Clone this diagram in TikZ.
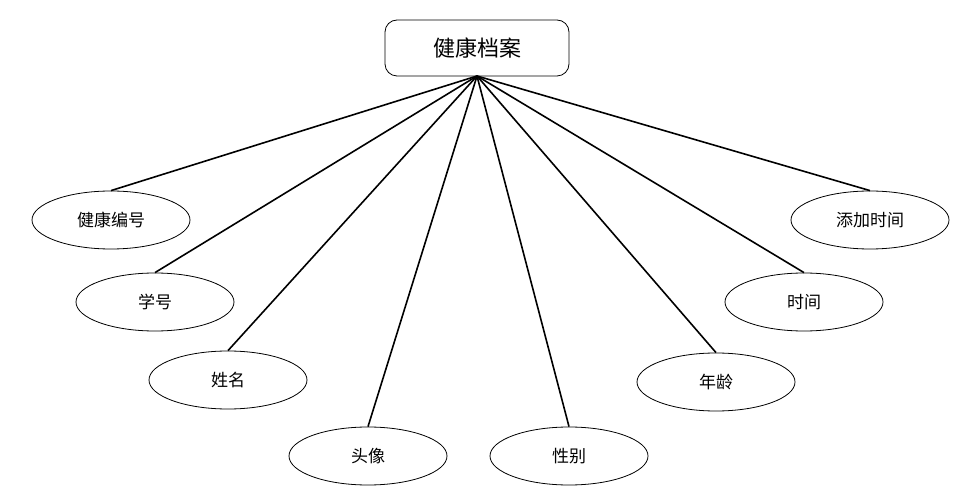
\documentclass[tikz,border=0pt]{standalone}
\usepackage{fontspec}
\setmainfont{Noto Sans CJK SC}
\usetikzlibrary{shapes.geometric}
\begin{document}
\begin{tikzpicture}[x=1pt,y=-1pt,
  attr/.style={draw,ellipse,minimum width=158pt,minimum height=58pt,font=\fontsize{17}{20}\selectfont,line width=0.8pt},
  link/.style={line width=1.6pt}]
\useasboundingbox (0,0) rectangle (966,502);
\node[draw,rounded corners=12pt,minimum width=184pt,minimum height=56pt,font=\fontsize{22}{26}\selectfont,line width=0.8pt] (root) at (477,48) {健康档案};
\coordinate (hub) at (477,76);
\node[attr] (a1) at (111,220) {健康编号};
\node[attr] (a2) at (155,302) {学号};
\node[attr] (a3) at (228,380) {姓名};
\node[attr] (a4) at (368,456) {头像};
\node[attr] (a5) at (569,456) {性别};
\node[attr] (a6) at (716,382) {年龄};
\node[attr] (a7) at (804,302) {时间};
\node[attr] (a8) at (870,220) {添加时间};
\foreach \n in {a1,a2,a3,a4,a5,a6,a7,a8} \draw[link] (hub) -- (\n.north);
\end{tikzpicture}
\end{document}
